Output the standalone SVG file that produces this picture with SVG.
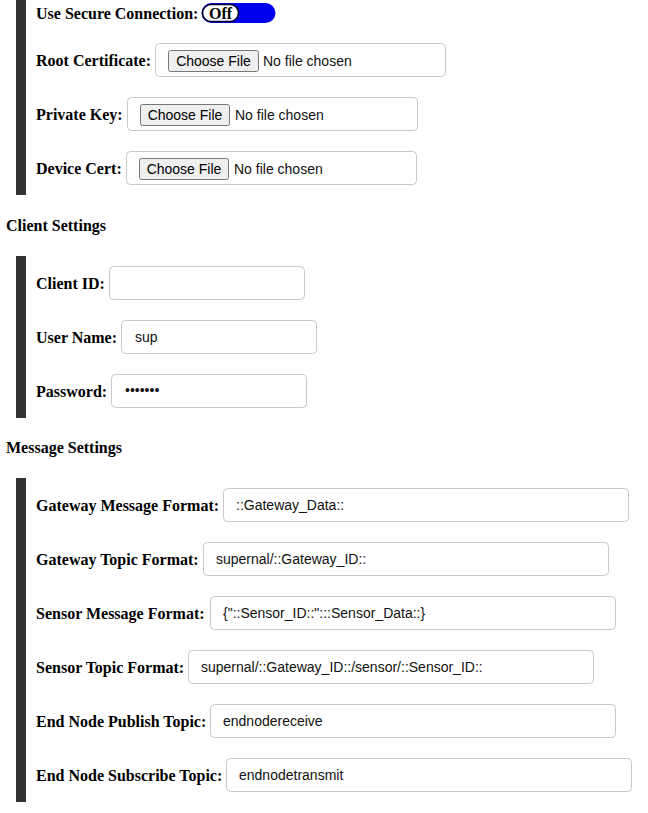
<svg xmlns="http://www.w3.org/2000/svg" width="648" height="813" viewBox="0 0 648 813">
<style>
.lbl{font-family:"Liberation Serif","Times New Roman",serif;font-weight:bold;font-size:16px;fill:#000}
.inp{fill:#fff;stroke:#c8c8c8;stroke-width:1}
.val{font-family:"Liberation Sans",Arial,sans-serif;font-size:14px;fill:#111}
.btn{fill:#efefef;stroke:#767676;stroke-width:1}
.btxt{font-family:"Liberation Sans",Arial,sans-serif;font-size:14px;fill:#000;text-anchor:middle}
.bar{fill:#333}
</style>
<rect width="648" height="813" fill="#fff"/>
<g id="bars">
<rect class="bar" x="16" y="0" width="10" height="195"/>
<rect class="bar" x="16" y="256" width="10" height="162"/>
<rect class="bar" x="16" y="478" width="10" height="324"/>
</g>
<g id="secure">
<text class="lbl" x="36" y="19">Use Secure Connection:</text>
<rect x="201.5" y="3" width="74" height="20" rx="10" fill="#0000ee"/>
<rect x="202.5" y="4.5" width="36" height="17" rx="8.5" fill="#fff" stroke="#000033" stroke-width="1.6"/>
<text class="lbl" x="220.5" y="19" text-anchor="middle">Off</text>
</g>
<g id="rootcert">
<text class="lbl" x="36" y="66">Root Certificate:</text>
<rect class="inp" x="155.5" y="43.5" width="290" height="33" rx="4"/>
<rect class="btn" x="168.5" y="50.5" width="90" height="21" rx="2"/>
<text class="btxt" x="213.5" y="66">Choose File</text>
<text class="val" x="263" y="66">No file chosen</text>
</g>
<g id="privkey">
<text class="lbl" x="36" y="120">Private Key:</text>
<rect class="inp" x="127.5" y="97.5" width="290" height="33" rx="4"/>
<rect class="btn" x="140.5" y="104.5" width="89" height="21" rx="2"/>
<text class="btxt" x="185" y="120">Choose File</text>
<text class="val" x="235" y="120">No file chosen</text>
</g>
<g id="devcert">
<text class="lbl" x="36" y="174">Device Cert:</text>
<rect class="inp" x="126.5" y="151.5" width="290" height="33" rx="4"/>
<rect class="btn" x="139.5" y="158.5" width="89" height="21" rx="2"/>
<text class="btxt" x="184" y="174">Choose File</text>
<text class="val" x="234" y="174">No file chosen</text>
</g>
<g id="client-header">
<text class="lbl" x="6" y="231">Client Settings</text>
</g>
<g id="clientid">
<text class="lbl" x="36" y="289">Client ID:</text>
<rect class="inp" x="109.5" y="266.5" width="195" height="33" rx="4"/>
</g>
<g id="username">
<text class="lbl" x="36" y="343">User Name:</text>
<rect class="inp" x="121.5" y="320.5" width="195" height="33" rx="4"/>
<text class="val" x="135" y="342">sup</text>
</g>
<g id="password">
<text class="lbl" x="36" y="397">Password:</text>
<rect class="inp" x="111.5" y="374.5" width="195" height="33" rx="4"/>
<text class="val" x="125" y="395" font-size="13">•••••••</text>
</g>
<g id="message-header">
<text class="lbl" x="6" y="453">Message Settings</text>
</g>
<g id="gwmsg">
<text class="lbl" x="36" y="511">Gateway Message Format:</text>
<rect class="inp" x="223.5" y="488.5" width="405" height="33" rx="4"/>
<text class="val" x="236" y="510">::Gateway_Data::</text>
</g>
<g id="gwtopic">
<text class="lbl" x="36" y="565">Gateway Topic Format:</text>
<rect class="inp" x="203.5" y="542.5" width="405" height="33" rx="4"/>
<text class="val" x="216" y="564">supernal/::Gateway_ID::</text>
</g>
<g id="sensormsg">
<text class="lbl" x="36" y="619">Sensor Message Format:</text>
<rect class="inp" x="210.5" y="596.5" width="405" height="33" rx="4"/>
<text class="val" x="223" y="618">{"::Sensor_ID::":::Sensor_Data::}</text>
</g>
<g id="sensortopic">
<text class="lbl" x="36" y="673">Sensor Topic Format:</text>
<rect class="inp" x="188.5" y="650.5" width="405" height="33" rx="4"/>
<text class="val" x="201" y="672">supernal/::Gateway_ID::/sensor/::Sensor_ID::</text>
</g>
<g id="pubtopic">
<text class="lbl" x="36" y="727">End Node Publish Topic:</text>
<rect class="inp" x="210.5" y="704.5" width="405" height="33" rx="4"/>
<text class="val" x="223" y="726">endnodereceive</text>
</g>
<g id="subtopic">
<text class="lbl" x="36" y="781">End Node Subscribe Topic:</text>
<rect class="inp" x="226.5" y="758.5" width="405" height="33" rx="4"/>
<text class="val" x="239" y="780">endnodetransmit</text>
</g>
<g id="connectors"></g>
</svg>
